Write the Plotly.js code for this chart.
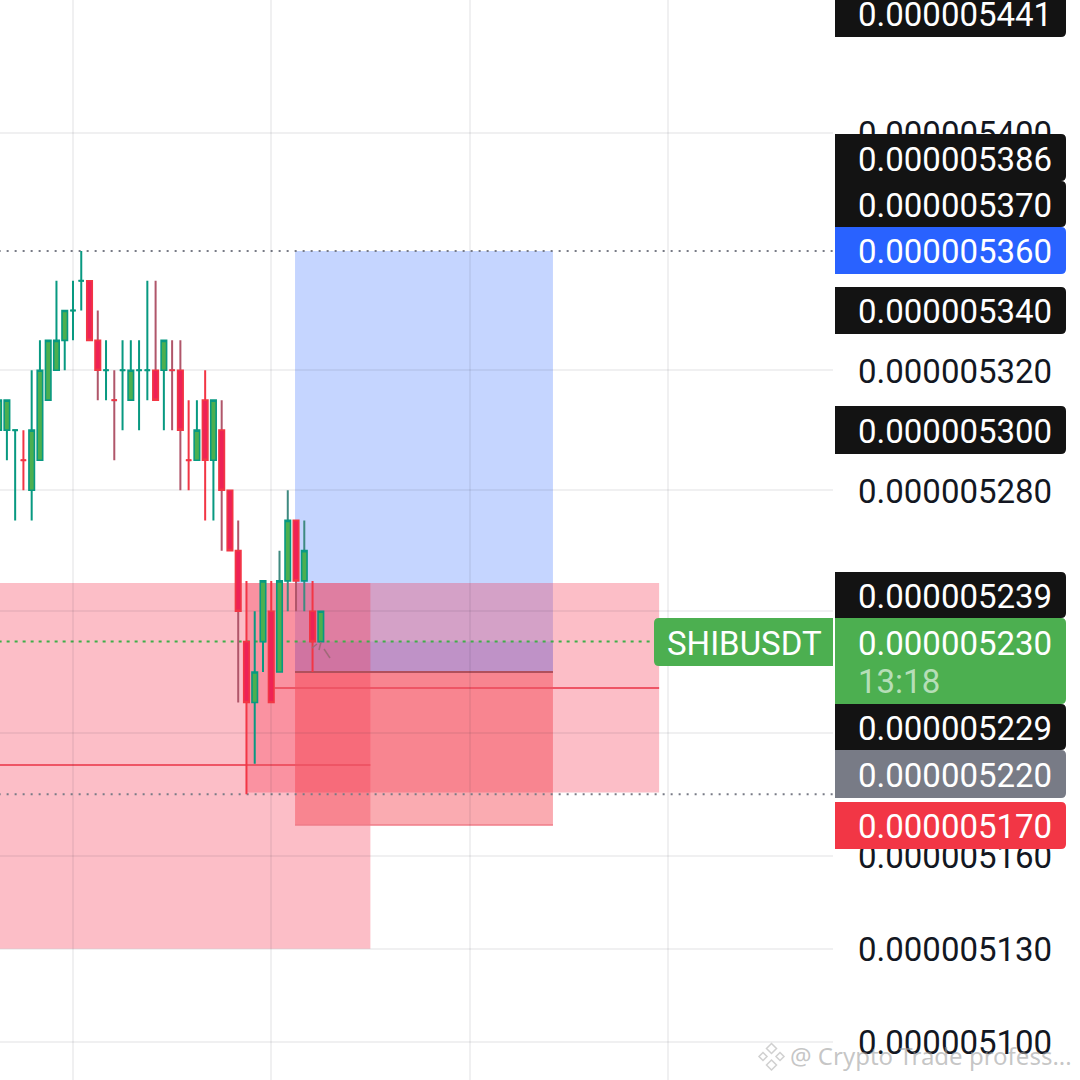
<!DOCTYPE html>
<html><head><meta charset="utf-8">
<script src="https://cdn.plot.ly/plotly-3.0.1.min.js"></script>
<style>html,body{margin:0;padding:0;background:#fff}#c{width:1080px;height:1080px}</style>
</head><body><div id="c"></div>
<script>
// prices are in billionths (1e-9 USDT)
const barIndex=[-1,0,1,2,3,4,5,6,7,8,9,10,11,12,13,14,15,16,17,18,19,20,21,22,23,24,25,26,27,28,29,30,31,32,33,34,35,36,37,38];
const openP =[5300,5300,5300,5290,5280,5290,5310,5320,5330,5340,5350,5350,5330,5320,5310,5320,5310,5320,5320,5320,5320,5320,5320,5290,5290,5310,5290,5300,5280,5260,5230,5210,5230,5240,5220,5250,5270,5250,5240,5230];
const highP =[5310,5310,5300,5300,5320,5330,5330,5350,5340,5350,5360,5350,5340,5330,5320,5330,5330,5330,5350,5350,5330,5330,5330,5310,5310,5320,5310,5310,5280,5270,5250,5240,5250,5250,5260,5280,5270,5270,5250,5240];
const lowP  =[5300,5290,5270,5280,5270,5290,5310,5320,5320,5330,5340,5330,5310,5310,5290,5300,5310,5300,5310,5310,5300,5300,5280,5280,5290,5270,5270,5260,5260,5210,5180,5190,5220,5210,5220,5240,5240,5240,5220,5230];
const closeP=[5310,5310,5300,5290,5300,5320,5330,5330,5340,5340,5350,5330,5320,5320,5310,5320,5320,5320,5320,5310,5330,5320,5300,5290,5300,5290,5310,5280,5260,5240,5210,5220,5250,5210,5250,5270,5250,5260,5230,5240];
const isUp  =[1,1,1,0,1,1,1,1,1,1,1,0,0,1,0,1,1,1,1,0,1,0,0,0,1,0,1,0,0,0,0,1,1,0,1,1,0,1,0,1];
const mutedWickBars=[11,13,18,20,21,26,28,33,34,35,36];

const gridBars=[8,32,56,80];
const tickPrices=[5400,5320,5280,5240,5200,5160,5130,5100];
const tickLabels=["0.000005400","0.000005320","0.000005280","0.000005240","0.000005200","0.000005160","0.000005130","0.000005100"];

const tagTexts=["0.000005441","0.000005386","0.000005370","0.000005360","0.000005340","0.000005300","0.000005239","0.000005230","0.000005229","0.000005220","0.000005170"];
const tagTextPx=[15,159,205,251,311,431,596,643,728,775,826];
const tagTopPx=[-10,134,181,227,287,406,572,618,704,750,802];
const tagBottomPx=[37,181,227,274,334,454,618,704,750,798,849];
const tagColors=["#131313","#131313","#131313","#2962ff","#131313","#131313","#131313","#4caf50","#131313","#787b86","#f23645"];

const W=1080,H=1080,PW=833;
const px=v=>v/PW, py=v=>1-v/H;
const isMuted=i=>mutedWickBars.includes(barIndex[i]);

// wicks are one layer at 2px, bodies sit on top at a thinner border
function wickLayer(flag,muted,color){
  const k=barIndex.map((b,i)=>i).filter(i=>isUp[i]===flag&&isMuted(i)===muted);
  const s={line:{color,width:2},fillcolor:color};
  return {type:'candlestick',increasing:s,decreasing:s,whiskerwidth:0,hoverinfo:'skip',showlegend:false,
    x:k.map(i=>barIndex[i]),open:k.map(i=>(openP[i]+closeP[i])/2),close:k.map(i=>(openP[i]+closeP[i])/2),high:k.map(i=>highP[i]),low:k.map(i=>lowP[i])};
}
function bodyLayer(flag,line,fill){
  const k=barIndex.map((b,i)=>i).filter(i=>isUp[i]===flag);
  const s={line:{color:line,width:1.6},fillcolor:fill};
  return {type:'candlestick',increasing:s,decreasing:s,whiskerwidth:0,hoverinfo:'skip',showlegend:false,
    x:k.map(i=>barIndex[i]),open:k.map(i=>openP[i]),close:k.map(i=>closeP[i]),
    high:k.map(i=>Math.max(openP[i],closeP[i])),low:k.map(i=>Math.min(openP[i],closeP[i]))};
}
const traces=[wickLayer(1,false,'#089981'),wickLayer(1,true,'#3f8a80'),wickLayer(0,false,'#f23645'),wickLayer(0,true,'#b0566a'),
  bodyLayer(1,'#089981','#4caf50'),bodyLayer(0,'#f23645','#ee2255')];

function tagPath(x0,x1,y0,y1,rl,rr){
  const P=(a,b)=>px(a)+','+py(b);
  return 'M'+P(x0+rl,y0)+'L'+P(x1-rr,y0)+'Q'+P(x1,y0)+' '+P(x1,y0+rr)+'L'+P(x1,y1-rr)+'Q'+P(x1,y1)+' '+P(x1-rr,y1)+
    'L'+P(x0+rl,y1)+'Q'+P(x0,y1)+' '+P(x0,y1-rl)+'L'+P(x0,y0+rl)+'Q'+P(x0,y0)+' '+P(x0+rl,y0)+'Z';
}
function zone(x0,x1,y0,y1,color){
  return {type:'rect',xref:'x',yref:'y',x0,x1,y0,y1,fillcolor:color,line:{width:0},layer:'below'};
}
function hline(x0,x1,y,color,dash,w){
  return {type:'line',xref:'x',yref:'y',x0,x1,y0:y,y1:y,line:{color,width:w||1.5,dash:dash||'solid'},layer:'below'};
}
const pinkFill='rgba(247,54,80,0.32)',blueFill='rgba(41,98,255,0.27)',redFill='rgba(242,54,69,0.42)';
const shapes=[
  zone(34.88,66.1,5220,5360,blueFill),
  zone(34.88,66.1,5220,5230,'rgba(41,98,255,0.2)'),
  zone(-1,44,5130,5249.3,pinkFill),
  zone(29.07,78.95,5180.6,5249.3,pinkFill),
  zone(34.88,66.1,5170,5220,redFill),
  hline(-1,100,5360,'#787b86','2px 6px',2),
  hline(-1,100,5180,'#787b86','2px 6px',2),
  hline(-1,78.3,5230,'#3fae49','3px 5px',2),
  hline(34.88,66.1,5220,'#b0505c','solid',2),
  hline(32.4,78.95,5214.8,'#ee5565','solid',2),
  hline(-1,44,5189.6,'#ee5565','solid',2),
  hline(34.88,66.1,5170,'#ef7c88','solid',1.5),
];
// small dashed arrow next to the last bar
[[312,648,317,644],[321,642,319,650],[324,649,330,658]].forEach(a=>shapes.push({type:'line',xref:'paper',yref:'paper',x0:px(a[0]),y0:py(a[1]),x1:px(a[2]),y1:py(a[3]),line:{color:'#a06a78',width:1.5}}));

tagTexts.forEach((t,i)=>shapes.push({type:'path',xref:'paper',yref:'paper',path:tagPath(835,1066,tagTopPx[i],tagBottomPx[i],0,5),fillcolor:tagColors[i],line:{width:0}}));
shapes.push({type:'path',xref:'paper',yref:'paper',path:tagPath(654,833,618,666,5,0),fillcolor:'#4caf50',line:{width:0}});

// watermark logo
const wm='rgba(170,170,170,0.55)';
[[771.5,1048.5,5],[763,1056.5,4],[780,1056.5,4],[771.5,1065,5]].forEach(d=>{
  shapes.push({type:'path',xref:'paper',yref:'paper',path:'M'+px(d[0])+','+py(d[1]-d[2])+'L'+px(d[0]+d[2])+','+py(d[1])+'L'+px(d[0])+','+py(d[1]+d[2])+'L'+px(d[0]-d[2])+','+py(d[1])+'Z',fillcolor:'rgba(255,255,255,0.6)',line:{color:wm,width:1.5}});
});

const ann=(x,y,text,size,color,family,anchor)=>({xref:'paper',yref:'paper',x:px(x),y:py(y),text,showarrow:false,xanchor:anchor||'left',yanchor:'middle',font:{family:family||'Roboto',size,color}});
const annotations=tagTexts.map((t,i)=>ann(856,tagTextPx[i],t,33,'#ffffff'));
annotations.push(ann(856,681,'13:18',33,'rgba(255,255,255,0.6)'));
annotations.push(ann(665,643,'SHIBUSDT',33,'#ffffff'));
annotations.push(ann(788,1055,'@ Crypto Trade profess...',24,'rgba(160,160,160,0.6)','Noto Sans'));

Plotly.newPlot('c',traces,{
  width:W,height:H,margin:{l:0,r:W-PW,t:0,b:0,pad:0},paper_bgcolor:'#fff',plot_bgcolor:'#fff',showlegend:false,boxgap:0.05,boxmode:'overlay',
  xaxis:{type:'linear',range:[-0.835,100],tickmode:'array',tickvals:gridBars,ticktext:gridBars.map(()=>''),showgrid:true,gridcolor:'rgba(42,46,57,0.07)',gridwidth:2,zeroline:false,showline:false,ticks:'',rangeslider:{visible:false},fixedrange:true},
  yaxis:{type:'log',side:'right',range:[Math.log10(5087.8),Math.log10(5445.3)],tickmode:'array',tickvals:tickPrices,ticktext:tickLabels,showgrid:true,gridcolor:'rgba(42,46,57,0.07)',gridwidth:2,zeroline:false,showline:false,ticks:'',ticklabelstandoff:24,ticklabelshift:1,tickfont:{family:'Roboto',size:33,color:'#131722'},fixedrange:true,autorange:false},
  shapes,annotations
},{staticPlot:true,displayModeBar:false});
</script></body></html>
